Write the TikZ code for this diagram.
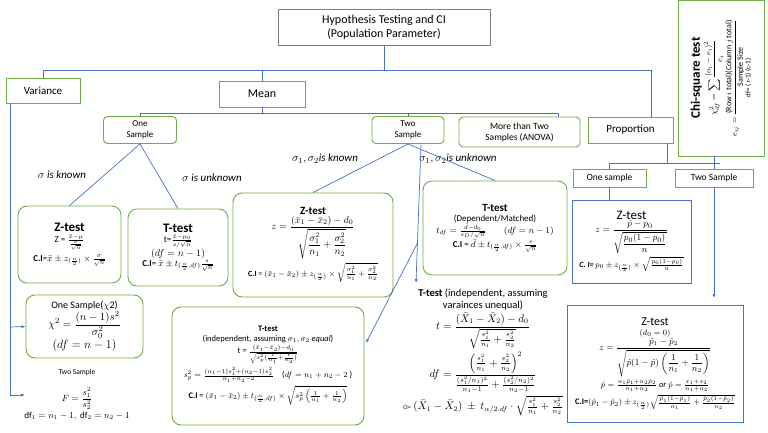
\documentclass[tikz,border=0pt]{standalone}
\usepackage{amsmath}
\usepackage{fontspec}
\setmainfont{Carlito}
\usetikzlibrary{arrows.meta}
\definecolor{grn}{RGB}{112,173,71}
\definecolor{blu}{RGB}{68,114,196}
\tikzset{
 gbox/.style={draw=grn,line width=0.9pt,rounded corners=9pt,inner sep=1pt,align=center,font=\fontsize{9}{10.5}\selectfont},
 sbox/.style={draw=grn,line width=0.9pt,inner sep=1pt,align=center,font=\fontsize{11}{13}\selectfont},
 bbox/.style={draw=blu,line width=0.9pt,inner sep=1pt,align=center,font=\fontsize{9}{10.5}\selectfont},
 ln/.style={draw=blu,line width=0.7pt},
 ar/.style={ln,-{Latex[length=4pt,width=3pt]}},
 lbl/.style={font=\fontsize{11}{13}\selectfont\itshape},
}
\begin{document}
\begin{tikzpicture}[x=1pt,y=-1pt]
\useasboundingbox (0,0) rectangle (768,433);
\fill[white] (0,0) rectangle (768,433);
% top
\node[draw=gray,line width=0.8pt,align=center,minimum width=212pt,minimum height=36pt,font=\fontsize{12}{14}\selectfont] (top) at (384,27) {Hypothesis Testing and CI\\(Population Parameter)};
\node[sbox,minimum width=74pt,minimum height=25pt] (var) at (43,91) {Variance};
\node[sbox,minimum width=86pt,minimum height=26pt,font=\fontsize{12}{14}\selectfont] (mean) at (262,94) {Mean};
\node[gbox,rounded corners=4pt,minimum width=73pt,minimum height=27pt,font=\fontsize{9}{11}\selectfont] (onesam) at (140,130) {One\\Sample};
\node[gbox,rounded corners=4pt,minimum width=72pt,minimum height=27pt,font=\fontsize{9}{11}\selectfont] (twosam) at (408,130) {Two\\Sample};
\node[gbox,rounded corners=4pt,minimum width=121pt,minimum height=30pt,font=\fontsize{9.5}{11}\selectfont] (anova) at (519.5,132) {More than Two\\Samples (ANOVA)};
\node[sbox,minimum width=85pt,minimum height=26pt] (prop) at (630.5,130) {Proportion};
% chi-square
\node[sbox,minimum width=86pt,minimum height=156pt] (chi) at (721,78) {};
\node[rotate=90,align=center,font=\fontsize{8}{10}\selectfont] (chit) at (chi.center) {{\fontsize{13}{15}\selectfont\bfseries Chi-square test}\\[1pt]
$\chi^2_{df}=\displaystyle\sum\frac{(o_i-e_i)^2}{e_i}$\\[1pt]
$e_{ij}=\dfrac{\text{(Row $i$ total)(Column $j$ total)}}{\text{Sample Size}}$\\ {\fontsize{7}{8}\selectfont df= ( r-1) (c-1)}};
% mean one sample
\node[gbox,minimum width=103pt,minimum height=77pt] (zt1) at (69.5,244.5) {{\fontsize{13}{15}\selectfont\bfseries Z-test}\\[1pt]
Z = $\frac{\bar x-\mu}{\frac{\sigma}{\sqrt n}}$\\[4pt]
\textbf{C.I}=$\bar x\pm z_{(\frac{\alpha}{2})}\times\frac{\sigma}{\sqrt n}$};
\node[gbox,minimum width=100pt,minimum height=77pt] (tt1) at (178,247.5) {{\fontsize{13}{15}\selectfont\bfseries T-test}\\
t=$\frac{\bar x-\mu_0}{s/\sqrt n}$\\ {\fontsize{10}{12}\selectfont$(df=n-1)$}\\
\textbf{C.I}= $\bar x\pm t_{(\frac{\alpha}{2},df)}\frac{s}{\sqrt n}$};
% two sample
\node[gbox,minimum width=160pt,minimum height=104pt] (zt2) at (313,245) {{\fontsize{11}{13}\selectfont\bfseries Z-test}\\
{\fontsize{10}{12}\selectfont$z=\dfrac{(\bar x_1-\bar x_2)-d_0}{\sqrt{\dfrac{\sigma_1^2}{n_1}+\dfrac{\sigma_2^2}{n_2}}}$}\\[3pt]
{\fontsize{8}{9.5}\selectfont\textbf{C.I} = $(\bar x_1-\bar x_2)\pm z_{(\frac{\alpha}{2})}\times\sqrt{\frac{\sigma_1^2}{n_1}+\frac{\sigma_2^2}{n_2}}$}};
\node[gbox,minimum width=144pt,minimum height=94pt] (tdep) at (495,228) {{\fontsize{11}{13}\selectfont\bfseries T-test}\\
(Dependent/Matched)\\[1pt]
$t_{df}=\frac{\bar d-d_0}{s_D/\sqrt n}\qquad(df=n-1)$\\[1pt]
\textbf{C.I} = $\bar d\pm t_{(\frac{\alpha}{2},df)}\times\frac{s}{\sqrt n}$};
\node[gbox,minimum width=117pt,minimum height=63pt,font=\fontsize{10}{12}\selectfont] (chi2b) at (84.5,326.5) {One Sample($\chi$2)\\
{\fontsize{11}{13}\selectfont$\chi^2=\dfrac{(n-1)s^2}{\sigma_0^2}$}\\ {\fontsize{12}{14}\selectfont$(df=n-1)$}};
\node[font=\fontsize{7.5}{9}\selectfont] (twolbl) at (77,372) {Two Sample};
\node[font=\fontsize{9}{10}\selectfont,align=center] (fform) at (77,404) {$F=\dfrac{s_1^2}{s_2^2}$\\[1pt] $\mathrm{df}_1=n_1-1,\ \mathrm{df}_2=n_2-1$};
\coordinate (fA) at (25,395);
\node[gbox,minimum width=192pt,minimum height=118pt,font=\fontsize{8.5}{10}\selectfont] (tequal) at (268,366) {\textbf{T-test}\\
(independent, assuming $\sigma_1,\sigma_2$ \textit{equal})\\[1pt]
t = $\frac{(\bar x_1-\bar x_2)-d_0}{\sqrt{s_p^2(\frac1{n_1}+\frac1{n_2})}}$\\[3pt]
$s_p^2=\frac{(n_1-1)s_1^2+(n_2-1)s_2^2}{n_1+n_2-2}$\quad ($df=n_1+n_2-2$ )\\[3pt]
\textbf{C.I} = $(\bar x_1-\bar x_2)\pm t_{(\frac{\alpha}{2},df)}\times\sqrt{s_p^2\left(\frac1{n_1}+\frac1{n_2}\right)}$};
\node[align=center,font=\fontsize{10.5}{12.5}\selectfont] (tuneq) at (483,352) {\textbf{T-test} (independent, assuming\\ varainces unequal)\\[2pt]
$t=\dfrac{(\bar X_1-\bar X_2)-d_0}{\sqrt{\frac{s_1^2}{n_1}+\frac{s_2^2}{n_2}}}$\\[2pt]
$df=\dfrac{\left(\frac{s_1^2}{n_1}+\frac{s_2^2}{n_2}\right)^2}{\frac{(s_1^2/n_1)^2}{n_1-1}+\frac{(s_2^2/n_2)^2}{n_2-1}}$\\[2pt]
{\fontsize{6}{7}\selectfont CI=} $(\bar X_1-\bar X_2)\ \pm\ t_{\alpha/2,df}\cdot\sqrt{\frac{s_1^2}{n_1}+\frac{s_2^2}{n_2}}$};
% proportion
\node[sbox,minimum width=73pt,minimum height=18pt,font=\fontsize{9.5}{11}\selectfont] (p1s) at (609.5,178) {One sample};
\node[sbox,minimum width=78pt,minimum height=18pt,font=\fontsize{9.5}{11}\selectfont] (p2s) at (714,178) {Two Sample};
\node[bbox,minimum width=119pt,minimum height=83pt] (pone) at (631.5,241.5) {{\fontsize{13}{15}\selectfont Z-test}\\
{\fontsize{9.5}{11}\selectfont$z=\dfrac{\hat p-p_0}{\sqrt{\dfrac{p_0(1-p_0)}{n}}}$}\\[2pt]
{\fontsize{8}{9}\selectfont\textbf{\textit{C. I=}} $p_0\pm z_{(\frac{\alpha}{2})}\times\sqrt{\frac{p_0(1-p_0)}{n}}$}};
\node[bbox,minimum width=176pt,minimum height=117pt,font=\fontsize{8.5}{10}\selectfont] (ptwo) at (655,363.5) {{\fontsize{12}{14}\selectfont Z-test}\\
$(d_0=0)$\\
{\fontsize{9}{10}\selectfont$z=\dfrac{\hat p_1-\hat p_2}{\sqrt{\hat p(1-\hat p)\left(\dfrac1{n_1}+\dfrac1{n_2}\right)}}$}\\[2pt]
$\hat p=\frac{n_1\hat p_1+n_2\hat p_2}{n_1+n_2}$ \textit{or} $\hat p=\frac{x_1+x_2}{n_1+n_2}$\\[2pt]
\textbf{C.I=}$(\hat p_1-\hat p_2)\pm z_{(\frac{\alpha}{2})}\sqrt{\frac{\hat p_1(1-\hat p_1)}{n_1}+\frac{\hat p_2(1-\hat p_2)}{n_2}}$};
% labels
\node[lbl] (l1) at (62,175) {$\sigma$ is known};
\node[lbl] (l2) at (212,178) {$\sigma$ is unknown};
\node[lbl] (l3) at (325,159) {$\sigma_1,\sigma_2$is known};
\node[lbl] (l4) at (458,159) {$\sigma_1,\sigma_2$is unknown};
% connectors
\coordinate (pj) at (651,70);
\draw[ln] (var.north) |- (pj) -- (pj |- prop.north);
\draw[ln] (top) -- (top.south |- pj);
\draw[ln] (mean.north) -- (mean.north |- pj);
\coordinate (aj) at (558,113);
\draw[ln] (mean) -- (mean.south |- aj);
\draw[ln] (onesam.north) |- (aj) -- (aj |- anova.north);
\draw[ln] (twosam.north) -- (twosam.north |- aj);
\coordinate (v0) at (10,103);
\coordinate (v1) at (10,327);
\coordinate (v2) at (10,395);
\draw[ln] (v0) -- (v2);
\draw[ar] (v1) -- (chi2b.west);
\draw[ar] (v2) -- (fA);
\draw[ln] (onesam.south) -- (zt1.north);
\draw[ln] (onesam.south) -- (tt1.north);
\draw[ln] (twosam.south) -- (zt2.north);
\draw[ln] (twosam.south) -- (tdep.north);
\coordinate (u0) at (421,145);
\coordinate (u1) at (416,283);
\coordinate (u2) at (417.5,243);
\coordinate (u3) at (366,343);
\draw[ar] (u0) -- (u1);
\draw[ar] (u2) -- (u3);
\coordinate (q) at (720,163);
\draw[ln] (prop.south -| 667,0) -- (667,163);
\draw[ln] (p1s.north) |- (q);
\draw[ln] (chi.south -| p2s.north) -- (p2s.north);
\draw[ln] (p1s.south) -- (p1s.south |- pone.north);
\coordinate (pt) at (714,298);
\draw[ar] (p2s.south) -- (pt);
\end{tikzpicture}
\end{document}
